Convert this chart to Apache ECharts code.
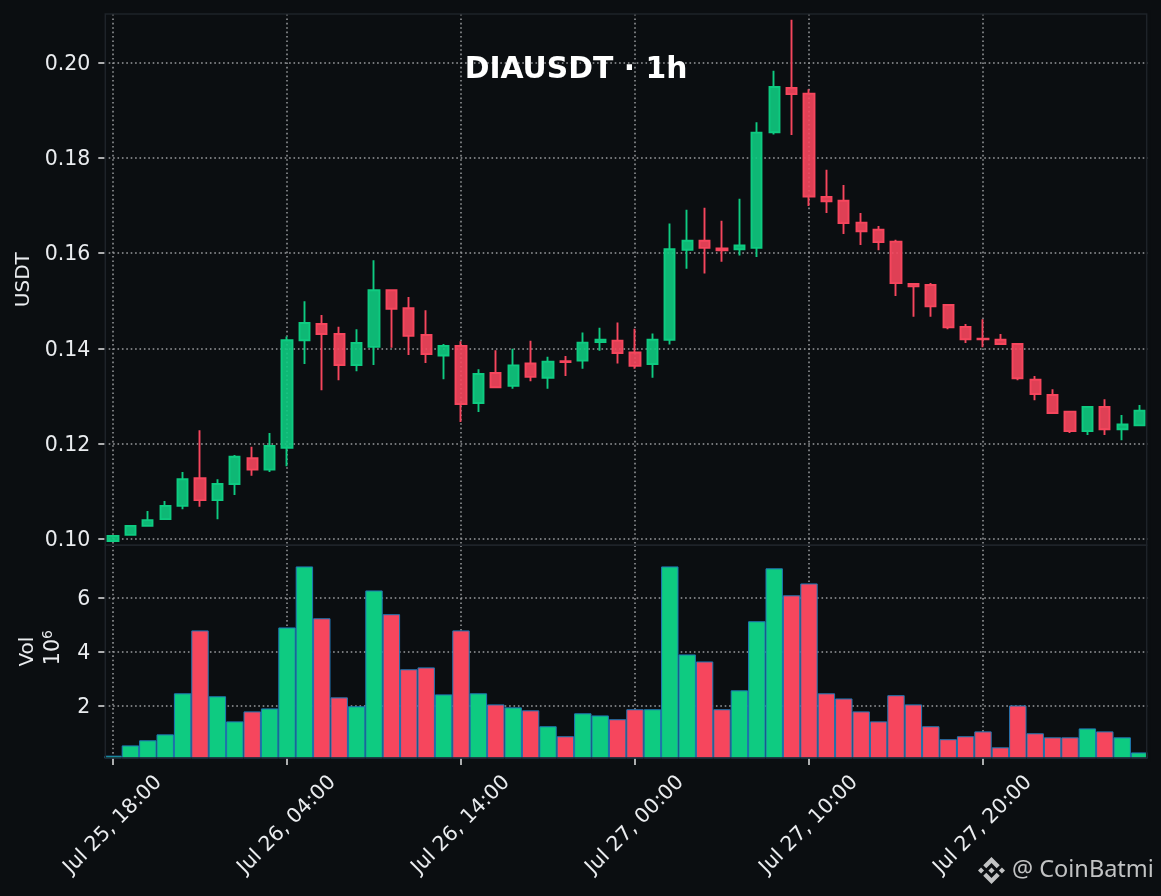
<!DOCTYPE html>
<html>
<head>
<meta charset="utf-8">
<style>html,body{margin:0;padding:0;background:#0b0e11}#c{width:1161px;height:896px}</style>
<script src="https://cdn.jsdelivr.net/npm/echarts@6/dist/echarts.min.js"></script>
</head>
<body>
<div id="c"></div>
<script>
const categories = [
"Jul 25, 18:00","Jul 25, 19:00","Jul 25, 20:00","Jul 25, 21:00","Jul 25, 22:00","Jul 25, 23:00",
"Jul 26, 00:00","Jul 26, 01:00","Jul 26, 02:00","Jul 26, 03:00","Jul 26, 04:00","Jul 26, 05:00",
"Jul 26, 06:00","Jul 26, 07:00","Jul 26, 08:00","Jul 26, 09:00","Jul 26, 10:00","Jul 26, 11:00",
"Jul 26, 12:00","Jul 26, 13:00","Jul 26, 14:00","Jul 26, 15:00","Jul 26, 16:00","Jul 26, 17:00",
"Jul 26, 18:00","Jul 26, 19:00","Jul 26, 20:00","Jul 26, 21:00","Jul 26, 22:00","Jul 26, 23:00",
"Jul 27, 00:00","Jul 27, 01:00","Jul 27, 02:00","Jul 27, 03:00","Jul 27, 04:00","Jul 27, 05:00",
"Jul 27, 06:00","Jul 27, 07:00","Jul 27, 08:00","Jul 27, 09:00","Jul 27, 10:00","Jul 27, 11:00",
"Jul 27, 12:00","Jul 27, 13:00","Jul 27, 14:00","Jul 27, 15:00","Jul 27, 16:00","Jul 27, 17:00",
"Jul 27, 18:00","Jul 27, 19:00","Jul 27, 20:00","Jul 27, 21:00","Jul 27, 22:00","Jul 27, 23:00",
"Jul 28, 00:00","Jul 28, 01:00","Jul 28, 02:00","Jul 28, 03:00","Jul 28, 04:00","Jul 28, 05:00"];
const opens = [
.0995,.1008,.1027,.1041,.1069,.1127,.1081,.1115,.1169,.1145,
.1191,.1417,.1451,.1430,.1365,.1403,.1522,.1484,.1428,.1385,
.1405,.1285,.1348,.1321,.1368,.1338,.1373,.1374,.1413,.1416,
.1391,.1367,.1418,.1607,.1626,.1610,.1608,.1611,.1854,.1947,
.1935,.1718,.1710,.1664,.1649,.1624,.1535,.1533,.1491,.1445,
.1420,.1418,.1409,.1334,.1302,.1267,.1226,.1277,.1230,.1238];
const closes = [
.1006,.1027,.1039,.1069,.1125,.1081,.1115,.1172,.1145,.1195,
.1417,.1453,.1430,.1365,.1411,.1522,.1483,.1426,.1388,.1405,
.1283,.1346,.1318,.1364,.1340,.1372,.1371,.1412,.1418,.1390,
.1363,.1418,.1608,.1626,.1611,.1606,.1616,.1853,.1949,.1934,
.1719,.1709,.1663,.1646,.1623,.1537,.1530,.1488,.1444,.1419,
.1419,.1409,.1337,.1304,.1264,.1226,.1277,.1230,.1240,.1269];
const lows = [
.0995,.1008,.1027,.1041,.1062,.1067,.1041,.1092,.1132,.1140,
.1152,.1367,.1312,.1333,.1352,.1365,.1401,.1386,.1369,.1335,
.1245,.1266,.1318,.1315,.1331,.1315,.1342,.1357,.1395,.1368,
.1357,.1338,.1408,.1567,.1557,.1582,.1595,.1592,.1849,.1848,
.1699,.1684,.1640,.1617,.1606,.1510,.1466,.1466,.1440,.1411,
.1402,.1409,.1333,.1291,.1264,.1222,.1218,.1218,.1207,.1238];
const highs = [
.1006,.1027,.1058,.1079,.1140,.1228,.1125,.1176,.1193,.1222,
.1425,.1499,.1470,.1445,.1440,.1585,.1522,.1508,.1480,.1409,
.1415,.1356,.1396,.1399,.1416,.1382,.1384,.1433,.1443,.1454,
.1441,.1431,.1662,.1691,.1695,.1668,.1714,.1875,.1983,.2090,
.1944,.1775,.1743,.1684,.1657,.1628,.1536,.1537,.1491,.1451,
.1461,.1430,.1409,.1342,.1314,.1267,.1277,.1293,.1260,.1281];
const volumes = [
.16,.54,.73,.95,2.47,4.80,2.36,1.43,1.80,1.91,
4.91,7.17,5.25,2.32,1.99,6.28,5.40,3.36,3.43,2.43,
4.80,2.47,2.06,1.95,1.84,1.25,.88,1.73,1.65,1.51,
1.88,1.88,7.17,3.91,3.65,1.88,2.58,5.14,7.10,6.10,
6.54,2.47,2.28,1.80,1.43,2.40,2.06,1.25,.77,.88,
1.06,.47,2.02,.99,.84,.84,1.17,1.06,.84,.28];
const priceTicks = [0.10,0.12,0.14,0.16,0.18,0.20];
const volumeTicks = [2,4,6];
const UP = '#0ecb81', DOWN = '#f6465d', BG = '#0b0e11', TXT = '#eaecef', FRAME = '#1e2329';
const FONT = '"DejaVu Sans"';
const EVERY = 9;
const dots = {color:'#999b9d', width:1.5, type:[1.6,2.8]};
const logoParts = [
 [[12,9.28],[14.72,12],[12,14.72],[9.28,12]],
 [[2.72,9.28],[5.41,12],[2.72,14.69],[0,12]],
 [[21.26,9.28],[24,12],[21.28,14.72],[18.57,12]],
 [[11.99,0],[19.34,7.34],[16.62,10.06],[11.99,5.42],[7.35,10.08],[4.64,7.36]],
 [[16.62,13.92],[19.34,16.64],[11.99,23.99],[4.64,16.64],[7.35,13.92],[11.99,18.58]]
];

const chart = echarts.init(document.getElementById('c'), null, {renderer:'canvas', width:1161, height:896});
const yBase = {type:'value', position:'left', scale:false,
  axisLine:{show:false},
  splitLine:{show:true, lineStyle:dots}};
chart.setOption({
  animation:false,
  backgroundColor:BG,
  title:{text:'DIAUSDT · 1h', left:571, top:65, textAlign:'center', textVerticalAlign:'middle',
    textStyle:{color:'#ffffff', fontFamily:FONT, fontWeight:'bold', fontSize:29.8}},
  grid:[
    {left:104.3, top:14, width:1044, height:531.3, outerBoundsMode:'none', containLabel:false},
    {left:104.3, top:545.3, width:1044, height:212.7, outerBoundsMode:'none', containLabel:false}
  ],
  xAxis:[
    {type:'category', gridIndex:0, data:categories, boundaryGap:true,
     axisLine:{show:false}, axisTick:{show:false}, axisLabel:{show:false},
     splitLine:{show:true, interval:EVERY, alignWithLabel:true, lineStyle:dots}},
    {type:'category', gridIndex:1, data:categories, boundaryGap:true,
     axisLine:{show:false},
     axisTick:{show:true, interval:EVERY, alignWithLabel:true, length:7, lineStyle:{color:'#e4e4e4', width:1.5}},
     axisLabel:{show:true, interval:EVERY, rotate:45, align:'center', verticalAlign:'middle', margin:67,
       color:TXT, fontFamily:FONT, fontSize:20.5, hideOverlap:false},
     splitLine:{show:true, interval:EVERY, alignWithLabel:true, lineStyle:dots}}
  ],
  yAxis:[
    Object.assign({}, yBase, {gridIndex:0, min:0.09861, max:0.21023,
      axisTick:{show:true, length:6, customValues:priceTicks, lineStyle:{color:'#e4e4e4', width:1.5}},
      axisLabel:{customValues:priceTicks, margin:14, verticalAlign:'top', lineHeight:4, color:TXT, fontFamily:FONT, fontSize:20.5,
        formatter:v=>Number(v).toFixed(2)},
      name:'USDT', nameLocation:'middle', nameRotate:90, nameGap:67,
      nameTextStyle:{color:TXT, fontFamily:FONT, fontSize:20}}),
    Object.assign({}, yBase, {gridIndex:1, min:0.074, max:7.952,
      axisTick:{show:true, length:6, customValues:volumeTicks, lineStyle:{color:'#e4e4e4', width:1.5}},
      axisLabel:{customValues:volumeTicks, margin:14, verticalAlign:'top', lineHeight:3, color:TXT, fontFamily:FONT, fontSize:20.5,
        formatter:v=>String(v)},
      name:'Vol\n{n|10}{s|6}', nameLocation:'middle', nameRotate:90, nameGap:37,
      nameTextStyle:{color:TXT, fontFamily:FONT, fontSize:20, lineHeight:26,
        rich:{n:{fontFamily:FONT, fontSize:20.5, color:TXT, padding:[0,0,0,8]}, s:{fontFamily:FONT, fontSize:14, color:TXT, padding:[0,0,10,0]}}}})
  ],
  series:[
    {type:'candlestick', xAxisIndex:0, yAxisIndex:0, barWidth:10.6,
     data:categories.map((_,i)=>[opens[i],closes[i],lows[i],highs[i]]),
     itemStyle:{color:'rgba(14,203,129,.9)', color0:'rgba(246,70,93,.9)', borderColor:UP, borderColor0:DOWN, borderWidth:1.9}},
    {type:'bar', xAxisIndex:1, yAxisIndex:1, barWidth:'100%',
     data:volumes.map((v,i)=>({value:v, itemStyle:{color:closes[i]>=opens[i]?UP:DOWN, borderColor:'#1f77b4', borderWidth:1}}))}
  ],
  graphic:[
    {type:'rect', z:50, shape:{x:1147.4,y:10,width:3,height:752}, style:{fill:BG}},
    {type:'rect', z:51, shape:{x:105.3,y:14,width:1041.4,height:531.3}, style:{fill:'none', stroke:FRAME, lineWidth:1.5}},
    {type:'rect', z:51, shape:{x:105.3,y:545.3,width:1041.4,height:212.7}, style:{fill:'none', stroke:FRAME, lineWidth:1.5}},
    {type:'group', z:52, x:978, y:857, scaleX:1.125, scaleY:1.125,
     children:logoParts.map(p=>({type:'polygon', z:52, shape:{points:p}, style:{fill:'#c2c3c4'}}))},
    {type:'text', z:52, x:1012, y:858.5, style:{text:'@ CoinBatmi', fill:'#c2c3c4', font:'23.5px "Noto Sans"'}}
  ]
});
</script>
</body>
</html>
